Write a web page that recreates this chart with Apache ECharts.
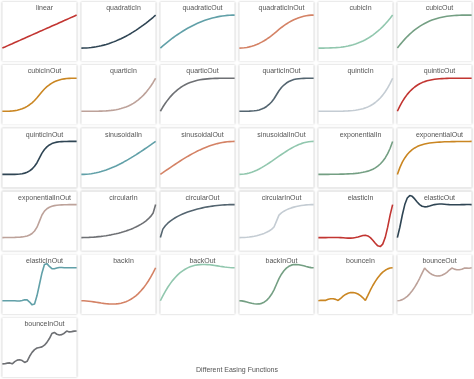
<!DOCTYPE html>
<html>
<head>
<meta charset="utf-8">
<style>html,body{margin:0;padding:0;background:#fff;}#main{width:474px;height:379px;}</style>
<script src="https://cdn.jsdelivr.net/npm/echarts@6/dist/echarts.min.js"></script>
</head>
<body>
<div id="main"></div>
<script>
const chartTitle = 'Different Easing Functions';
const names = ['linear','quadraticIn','quadraticOut','quadraticInOut','cubicIn','cubicOut','cubicInOut','quarticIn','quarticOut','quarticInOut','quinticIn','quinticOut','quinticInOut','sinusoidalIn','sinusoidalOut','sinusoidalInOut','exponentialIn','exponentialOut','exponentialInOut','circularIn','circularOut','circularInOut','elasticIn','elasticOut','elasticInOut','backIn','backOut','backInOut','bounceIn','bounceOut','bounceInOut'];
const colors = ['#c23531','#2f4554','#61a0a8','#d48265','#91c7ae','#749f83','#ca8622','#bda29a','#6e7074','#546570','#c4ccd3'];
const xs = [0,0.0333,0.0667,0.1,0.1333,0.1667,0.2,0.2333,0.2667,0.3,0.3333,0.3667,0.4,0.4333,0.4667,0.5,0.5333,0.5667,0.6,0.6333,0.6667,0.7,0.7333,0.7667,0.8,0.8333,0.8667,0.9,0.9333,0.9667,1];

const linear = [0,0.033,0.067,0.1,0.133,0.167,0.2,0.233,0.267,0.3,0.333,0.367,0.4,0.433,0.467,0.5,0.533,0.567,0.6,0.633,0.667,0.7,0.733,0.767,0.8,0.833,0.867,0.9,0.933,0.967,1];
const quadraticIn = [0,0.001,0.004,0.01,0.018,0.028,0.04,0.054,0.071,0.09,0.111,0.134,0.16,0.188,0.218,0.25,0.284,0.321,0.36,0.401,0.444,0.49,0.538,0.588,0.64,0.694,0.751,0.81,0.871,0.934,1];
const quadraticOut = [0,0.066,0.129,0.19,0.249,0.306,0.36,0.412,0.462,0.51,0.556,0.599,0.64,0.679,0.716,0.75,0.782,0.812,0.84,0.866,0.889,0.91,0.929,0.946,0.96,0.972,0.982,0.99,0.996,0.999,1];
const quadraticInOut = [0,0.002,0.009,0.02,0.036,0.056,0.08,0.109,0.142,0.18,0.222,0.269,0.32,0.376,0.436,0.5,0.564,0.624,0.68,0.731,0.778,0.82,0.858,0.891,0.92,0.944,0.964,0.98,0.991,0.998,1];
const cubicIn = [0,0,0,0.001,0.002,0.005,0.008,0.013,0.019,0.027,0.037,0.049,0.064,0.081,0.102,0.125,0.152,0.182,0.216,0.254,0.296,0.343,0.394,0.451,0.512,0.579,0.651,0.729,0.813,0.903,1];
const cubicOut = [0,0.097,0.187,0.271,0.349,0.421,0.488,0.549,0.606,0.657,0.704,0.746,0.784,0.818,0.848,0.875,0.898,0.919,0.936,0.951,0.963,0.973,0.981,0.987,0.992,0.995,0.998,0.999,1,1,1];
const cubicInOut = [0,0,0.001,0.004,0.009,0.019,0.032,0.051,0.076,0.108,0.148,0.197,0.256,0.325,0.407,0.5,0.593,0.675,0.744,0.803,0.852,0.892,0.924,0.949,0.968,0.981,0.991,0.996,0.999,1,1];
const quarticIn = [0,0,0,0,0,0.001,0.002,0.003,0.005,0.008,0.012,0.018,0.026,0.035,0.047,0.063,0.081,0.103,0.13,0.161,0.198,0.24,0.289,0.345,0.41,0.482,0.564,0.656,0.759,0.873,1];
const quarticOut = [0,0.127,0.241,0.344,0.436,0.518,0.59,0.655,0.711,0.76,0.802,0.839,0.87,0.897,0.919,0.938,0.953,0.965,0.974,0.982,0.988,0.992,0.995,0.997,0.998,0.999,1,1,1,1,1];
const quarticInOut = [0,0,0,0.001,0.003,0.006,0.013,0.024,0.04,0.065,0.099,0.145,0.205,0.282,0.379,0.5,0.621,0.718,0.795,0.855,0.901,0.935,0.96,0.976,0.987,0.994,0.997,0.999,1,1,1];
const quinticIn = [0,0,0,0,0,0,0,0.001,0.001,0.002,0.004,0.007,0.01,0.015,0.022,0.031,0.043,0.058,0.078,0.102,0.132,0.168,0.212,0.265,0.328,0.402,0.489,0.59,0.708,0.844,1];
const quinticOut = [0,0.156,0.292,0.41,0.511,0.598,0.672,0.735,0.788,0.832,0.868,0.898,0.922,0.942,0.957,0.969,0.978,0.985,0.99,0.993,0.996,0.998,0.999,0.999,1,1,1,1,1,1,1];
const quinticInOut = [0,0,0,0,0.001,0.002,0.005,0.011,0.022,0.039,0.066,0.106,0.164,0.245,0.354,0.5,0.646,0.755,0.836,0.894,0.934,0.961,0.978,0.989,0.995,0.998,0.999,1,1,1,1];
const sinusoidalIn = [0,0.001,0.005,0.012,0.022,0.034,0.049,0.066,0.086,0.109,0.134,0.161,0.191,0.223,0.257,0.293,0.331,0.371,0.412,0.455,0.5,0.546,0.593,0.642,0.691,0.741,0.792,0.844,0.895,0.948,1];
const sinusoidalOut = [0,0.052,0.105,0.156,0.208,0.259,0.309,0.358,0.407,0.454,0.5,0.545,0.588,0.629,0.669,0.707,0.743,0.777,0.809,0.839,0.866,0.891,0.914,0.934,0.951,0.966,0.978,0.988,0.995,0.999,1];
const sinusoidalInOut = [0,0.003,0.011,0.024,0.043,0.067,0.095,0.128,0.165,0.206,0.25,0.297,0.345,0.396,0.448,0.5,0.552,0.604,0.655,0.703,0.75,0.794,0.835,0.872,0.905,0.933,0.957,0.976,0.989,0.997,1];
const exponentialIn = [0,0.001,0.002,0.002,0.002,0.003,0.004,0.005,0.006,0.008,0.01,0.012,0.016,0.02,0.025,0.031,0.039,0.05,0.063,0.079,0.099,0.125,0.157,0.198,0.25,0.315,0.397,0.5,0.63,0.794,1];
const exponentialOut = [0,0.206,0.37,0.5,0.603,0.685,0.75,0.802,0.843,0.875,0.901,0.921,0.938,0.95,0.961,0.969,0.975,0.98,0.984,0.988,0.99,0.992,0.994,0.995,0.996,0.997,0.998,0.998,0.999,0.999,1];
const exponentialInOut = [0,0.001,0.001,0.002,0.003,0.005,0.008,0.012,0.02,0.031,0.05,0.079,0.125,0.198,0.315,0.5,0.685,0.802,0.875,0.921,0.95,0.969,0.98,0.988,0.992,0.995,0.997,0.998,0.999,0.999,1];
const circularIn = [0,0.001,0.002,0.005,0.009,0.014,0.02,0.028,0.036,0.046,0.057,0.07,0.083,0.099,0.116,0.134,0.154,0.176,0.2,0.226,0.255,0.286,0.32,0.358,0.4,0.447,0.501,0.564,0.641,0.744,1];
const circularOut = [0,0.256,0.359,0.436,0.499,0.553,0.6,0.642,0.68,0.714,0.745,0.774,0.8,0.824,0.846,0.866,0.884,0.901,0.917,0.93,0.943,0.954,0.964,0.972,0.98,0.986,0.991,0.995,0.998,0.999,1];
const circularInOut = [0,0.001,0.004,0.01,0.018,0.029,0.042,0.058,0.077,0.1,0.127,0.16,0.2,0.25,0.32,0.5,0.68,0.75,0.8,0.84,0.873,0.9,0.923,0.942,0.958,0.971,0.982,0.99,0.996,0.999,1];
const elasticIn = [0,-0.001,-0.001,0,0.001,0.003,0.004,0.004,0.003,0,-0.005,-0.011,-0.016,-0.017,-0.012,0,0.02,0.043,0.063,0.068,0.05,0,-0.079,-0.172,-0.25,-0.273,-0.198,0,0.315,0.687,1];
const elasticOut = [0,0.313,0.685,1,1.198,1.273,1.25,1.172,1.079,1,0.95,0.932,0.938,0.957,0.98,1,1.012,1.017,1.016,1.011,1.005,1,0.997,0.996,0.996,0.997,0.999,1,1.001,1.001,1];
const elasticInOut = [0,0,0.001,0.002,0.002,-0.002,-0.008,-0.006,0.01,0.031,0.025,-0.039,-0.125,-0.099,0.157,0.5,0.843,1.099,1.125,1.039,0.975,0.969,0.99,1.006,1.008,1.002,0.998,0.998,0.999,1,1];
const backIn = [0,-0.002,-0.007,-0.014,-0.024,-0.035,-0.046,-0.058,-0.07,-0.08,-0.089,-0.096,-0.099,-0.1,-0.096,-0.088,-0.074,-0.055,-0.029,0.004,0.044,0.093,0.15,0.217,0.294,0.382,0.481,0.591,0.714,0.85,1];
const backOut = [0,0.15,0.286,0.409,0.519,0.618,0.706,0.783,0.85,0.907,0.956,0.996,1.029,1.055,1.074,1.088,1.096,1.1,1.099,1.096,1.089,1.08,1.07,1.058,1.046,1.035,1.024,1.014,1.007,1.002,1];
const backInOut = [0,-0.005,-0.019,-0.038,-0.058,-0.078,-0.093,-0.1,-0.096,-0.079,-0.044,0.011,0.09,0.196,0.331,0.5,0.669,0.804,0.91,0.989,1.044,1.079,1.096,1.1,1.093,1.078,1.058,1.038,1.019,1.005,1];
const bounceIn = [0,0.015,0.012,0.012,0.045,0.061,0.06,0.042,0.008,0.069,0.139,0.192,0.227,0.247,0.249,0.234,0.203,0.155,0.09,0.008,0.16,0.319,0.462,0.588,0.697,0.79,0.866,0.924,0.966,0.992,1];
const bounceOut = [0,0.008,0.034,0.076,0.134,0.21,0.303,0.412,0.538,0.681,0.84,0.992,0.91,0.845,0.797,0.766,0.751,0.753,0.773,0.808,0.861,0.931,0.992,0.958,0.94,0.939,0.955,0.988,0.988,0.985,1];
const bounceInOut = [0,0.006,0.023,0.03,0.004,0.07,0.114,0.125,0.102,0.045,0.08,0.231,0.349,0.433,0.483,0.5,0.517,0.567,0.652,0.769,0.92,0.955,0.899,0.876,0.887,0.931,0.996,0.97,0.978,0.994,1];

const values = [linear,quadraticIn,quadraticOut,quadraticInOut,cubicIn,cubicOut,cubicInOut,quarticIn,quarticOut,quarticInOut,quinticIn,quinticOut,quinticInOut,sinusoidalIn,sinusoidalOut,sinusoidalInOut,exponentialIn,exponentialOut,exponentialInOut,circularIn,circularOut,circularInOut,elasticIn,elasticOut,elasticInOut,backIn,backOut,backInOut,bounceIn,bounceOut,bounceInOut];

const FONT = 'Liberation Sans, Arial, sans-serif';
const cols = Math.ceil(Math.sqrt(names.length));
const grids = [], xAxes = [], yAxes = [], series = [], titles = [];
names.forEach(function (name, idx) {
  const left = (idx % cols) / cols * 100 + 0.5;
  const top = Math.floor(idx / cols) / cols * 100 + 0.5;
  const w = 100 / cols - 1;
  grids.push({
    show: true, borderWidth: 0, backgroundColor: '#fff',
    shadowColor: 'rgba(0,0,0,0.25)', shadowBlur: 2,
    left: left + '%', top: top + '%', width: w + '%', height: w + '%'
  });
  xAxes.push({ type: 'value', show: false, min: 0, max: 1, gridIndex: idx });
  yAxes.push({ type: 'value', show: false, min: -0.4, max: 1.4, gridIndex: idx });
  series.push({
    name: name, type: 'line', xAxisIndex: idx, yAxisIndex: idx,
    data: xs.map(function (x, i) { return [x, values[idx][i]]; }),
    showSymbol: false, symbol: 'none',
    lineStyle: { width: 1.6, color: colors[idx % colors.length] },
    animation: false
  });
  titles.push({
    text: name, textAlign: 'center',
    left: (left + w / 2) + '%', top: top + '%', padding: [3, 5],
    textStyle: { fontSize: 7, fontWeight: 'normal', color: '#555', fontFamily: FONT }
  });
});
titles.push({
  text: chartTitle, left: 'center', top: 'bottom',
  textStyle: { fontSize: 7, fontWeight: 'normal', color: '#555', fontFamily: FONT }
});

const chart = echarts.init(document.getElementById('main'));
chart.setOption({
  animation: false,
  title: titles,
  grid: grids,
  xAxis: xAxes,
  yAxis: yAxes,
  series: series
});
</script>
</body>
</html>
